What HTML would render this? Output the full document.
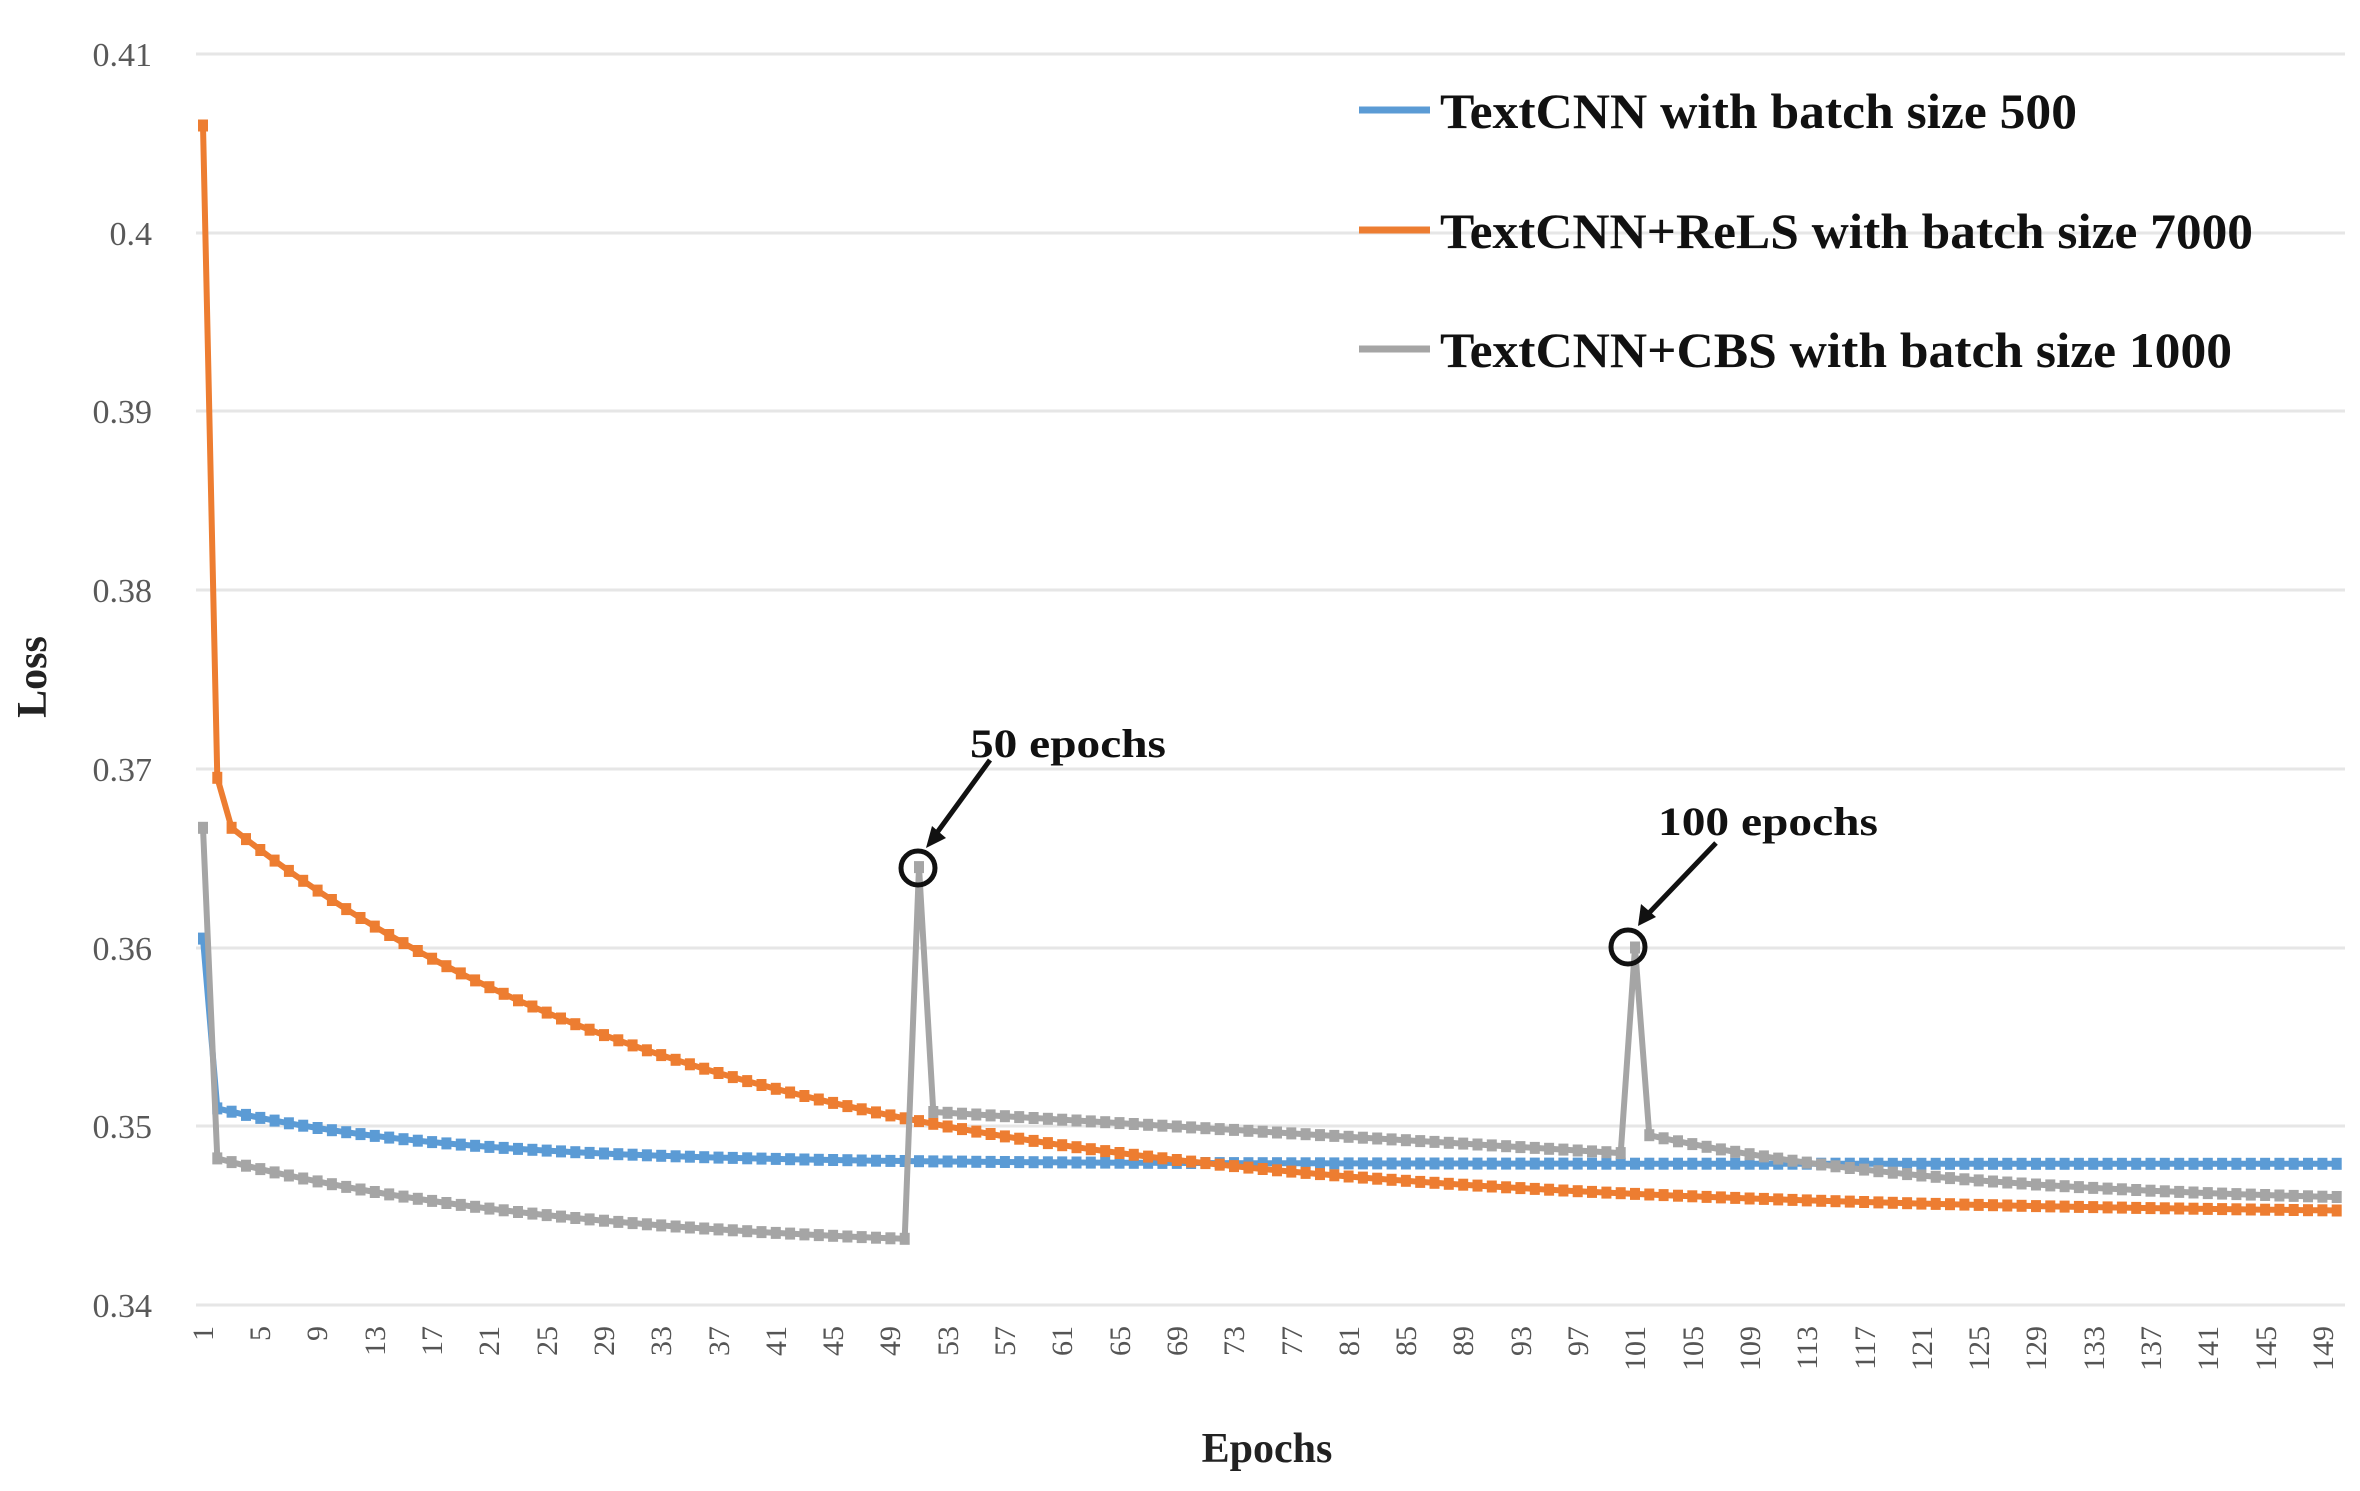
<!DOCTYPE html>
<html><head><meta charset="utf-8"><style>
html,body{margin:0;padding:0;background:#fff;}
svg{display:block;}
</style></head><body>
<svg id="s" width="2360" height="1491" viewBox="0 0 2360 1491" xmlns="http://www.w3.org/2000/svg" font-family="Liberation Serif, serif">
<g stroke="#e6e6e6" stroke-width="3">
<line x1="196" x2="2345" y1="54" y2="54"/><line x1="196" x2="2345" y1="233" y2="233"/>
<line x1="196" x2="2345" y1="411" y2="411"/><line x1="196" x2="2345" y1="590" y2="590"/>
<line x1="196" x2="2345" y1="769" y2="769"/><line x1="196" x2="2345" y1="948" y2="948"/>
<line x1="196" x2="2345" y1="1126" y2="1126"/><line x1="196" x2="2345" y1="1305" y2="1305"/>
</g>
<g fill="#595959" font-size="34" text-anchor="end">
<text x="152" y="66">0.41</text><text x="152" y="245">0.4</text><text x="152" y="423">0.39</text>
<text x="152" y="602">0.38</text><text x="152" y="781">0.37</text><text x="152" y="960">0.36</text>
<text x="152" y="1138">0.35</text><text x="152" y="1317">0.34</text>
</g>
<g id="ticks" fill="#555" font-size="30" text-anchor="end">
<text transform="translate(213,1326) rotate(-90)">1</text>
<text transform="translate(270,1326) rotate(-90)">5</text>
<text transform="translate(327,1326) rotate(-90)">9</text>
<text transform="translate(385,1326) rotate(-90)">13</text>
<text transform="translate(442,1326) rotate(-90)">17</text>
<text transform="translate(499,1326) rotate(-90)">21</text>
<text transform="translate(557,1326) rotate(-90)">25</text>
<text transform="translate(614,1326) rotate(-90)">29</text>
<text transform="translate(671,1326) rotate(-90)">33</text>
<text transform="translate(729,1326) rotate(-90)">37</text>
<text transform="translate(786,1326) rotate(-90)">41</text>
<text transform="translate(843,1326) rotate(-90)">45</text>
<text transform="translate(900,1326) rotate(-90)">49</text>
<text transform="translate(958,1326) rotate(-90)">53</text>
<text transform="translate(1015,1326) rotate(-90)">57</text>
<text transform="translate(1072,1326) rotate(-90)">61</text>
<text transform="translate(1130,1326) rotate(-90)">65</text>
<text transform="translate(1187,1326) rotate(-90)">69</text>
<text transform="translate(1244,1326) rotate(-90)">73</text>
<text transform="translate(1302,1326) rotate(-90)">77</text>
<text transform="translate(1359,1326) rotate(-90)">81</text>
<text transform="translate(1416,1326) rotate(-90)">85</text>
<text transform="translate(1473,1326) rotate(-90)">89</text>
<text transform="translate(1531,1326) rotate(-90)">93</text>
<text transform="translate(1588,1326) rotate(-90)">97</text>
<text transform="translate(1645,1326) rotate(-90)">101</text>
<text transform="translate(1703,1326) rotate(-90)">105</text>
<text transform="translate(1760,1326) rotate(-90)">109</text>
<text transform="translate(1817,1326) rotate(-90)">113</text>
<text transform="translate(1875,1326) rotate(-90)">117</text>
<text transform="translate(1932,1326) rotate(-90)">121</text>
<text transform="translate(1989,1326) rotate(-90)">125</text>
<text transform="translate(2046,1326) rotate(-90)">129</text>
<text transform="translate(2104,1326) rotate(-90)">133</text>
<text transform="translate(2161,1326) rotate(-90)">137</text>
<text transform="translate(2218,1326) rotate(-90)">141</text>
<text transform="translate(2276,1326) rotate(-90)">145</text>
<text transform="translate(2333,1326) rotate(-90)">149</text>
</g>
<text x="1267" y="1462" font-size="42" font-weight="bold" text-anchor="middle" fill="#222">Epochs</text>
<text transform="translate(46,677) rotate(-90)" font-size="42" font-weight="bold" text-anchor="middle" fill="#222">Loss</text>
<g id="series"></g>
<g font-size="50" font-weight="bold" fill="#111">
<line x1="1359" x2="1430" y1="110" y2="110" stroke="#5B9BD5" stroke-width="7"/>
<text x="1440" y="128" textLength="637" lengthAdjust="spacingAndGlyphs">TextCNN with batch size 500</text>
<line x1="1359" x2="1430" y1="230" y2="230" stroke="#ED7D31" stroke-width="7"/>
<text x="1440" y="248" textLength="813" lengthAdjust="spacingAndGlyphs">TextCNN+ReLS with batch size 7000</text>
<line x1="1359" x2="1430" y1="349" y2="349" stroke="#A5A5A5" stroke-width="7"/>
<text x="1440" y="367" textLength="792" lengthAdjust="spacingAndGlyphs">TextCNN+CBS with batch size 1000</text>
</g>
<g fill="none" stroke="#111" stroke-width="5">
<circle cx="918" cy="868" r="17"/><circle cx="1628" cy="947" r="17"/>
<line x1="990" y1="760" x2="936" y2="834"/><line x1="1716" y1="843" x2="1648" y2="914"/>
</g>
<polygon points="926,848 932,826 946,838" fill="#111"/>
<polygon points="1638,926 1641,904 1656,917" fill="#111"/>
<g font-size="40" font-weight="bold" fill="#111">
<text x="970" y="757" textLength="196" lengthAdjust="spacingAndGlyphs">50 epochs</text><text x="1658" y="835" textLength="220" lengthAdjust="spacingAndGlyphs">100 epochs</text>
</g>
</svg>
<script>
(function(){
var g=document.getElementById('series');
function X(i){return 203+(i-1)*14.32;}
function Y(v){return 54+(0.41-v)*17871;}
var blue=[],orange=[],gray=[];
for(var i=1;i<=150;i++){
 var b;
 if(i==1)b=0.3605;else b=0.3479+0.0031*Math.exp(-(i-2)/16);
 blue.push(b);
 var o;
 if(i==1)o=0.406;else if(i==2)o=0.3695;else o=0.3450+0.0217*Math.exp(-(i-3)/34);
 orange.push(o);
 var c;
 if(i==1)c=0.3667;
 else if(i<=50)c=0.3482-0.0045*(1-Math.exp(-(i-2)/25))/(1-Math.exp(-48/25));
 else if(i==51)c=0.3645;
 else if(i<=100)c=0.3508-0.0023*(i-52)/48;
 else if(i==101)c=0.3600;
 else c=0.3456+0.0039*Math.exp(-(i-102)/22);
 gray.push(c);
}
function draw(arr,col){
 var p=arr.map(function(v,k){return X(k+1).toFixed(1)+','+Y(v).toFixed(1);}).join(' ');
 var s='<polyline points="'+p+'" fill="none" stroke="'+col+'" stroke-width="6" stroke-linejoin="round"/>';
 arr.forEach(function(v,k){s+='<rect x="'+(X(k+1)-5).toFixed(1)+'" y="'+(Y(v)-6).toFixed(1)+'" width="10" height="12" fill="'+col+'"/>';});
 return s;
}
g.innerHTML=draw(blue,'#5B9BD5')+draw(orange,'#ED7D31')+draw(gray,'#A5A5A5');
})();
</script>
</body></html>
